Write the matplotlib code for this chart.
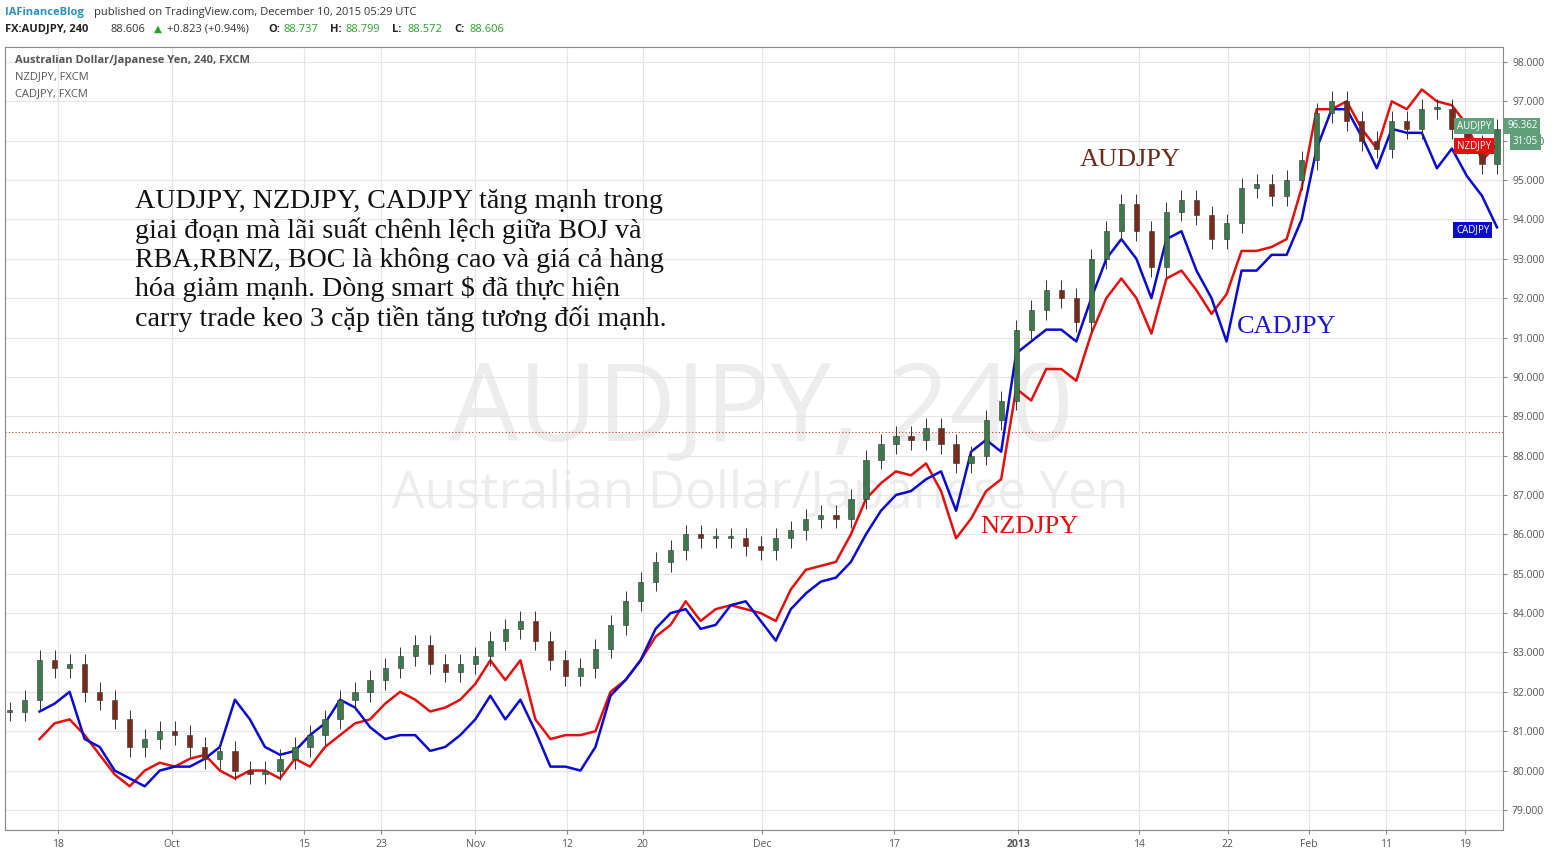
import numpy as np
import matplotlib.pyplot as plt

# closes sampled every 15 px along the chart (bar index 0..99)
aud = [81.5, 81.8, 82.8, 82.6, 82.7, 82.0, 81.8, 81.3, 80.6, 80.8,
       81.0, 80.9, 80.6, 80.3, 80.5, 80.0, 79.9, 80.0, 80.3, 80.6,
       80.9, 81.3, 81.8, 82.0, 82.3, 82.6, 82.9, 83.2, 82.7, 82.5,
       82.7, 82.9, 83.3, 83.6, 83.8, 83.3, 82.8, 82.4, 82.6, 83.1,
       83.7, 84.3, 84.8, 85.3, 85.6, 86.0, 85.9, 85.9, 85.9, 85.7,
       85.6, 85.9, 86.1, 86.4, 86.5, 86.4, 86.9, 87.9, 88.3, 88.5,
       88.4, 88.7, 88.3, 87.8, 88.0, 88.9, 89.4, 91.2, 91.7, 92.2,
       92.0, 91.4, 93.0, 93.7, 94.4, 93.7, 92.8, 94.2, 94.5, 94.1,
       93.5, 93.9, 94.8, 94.9, 94.6, 95.0, 95.5, 96.7, 97.0, 96.5,
       96.0, 95.8, 96.5, 96.3, 96.8, 96.8, 96.3, 95.9, 95.4, 96.3]
nzd = [np.nan, np.nan, 80.8, 81.2, 81.3, 80.9, 80.4, 79.9, 79.6, 80.0,
       80.2, 80.1, 80.3, 80.4, 80.0, 79.8, 80.0, 80.0, 79.8, 80.3,
       80.1, 80.6, 80.9, 81.2, 81.3, 81.7, 82.0, 81.8, 81.5, 81.6,
       81.8, 82.2, 82.8, 82.3, 82.8, 81.3, 80.8, 80.9, 80.9, 81.0,
       82.0, 82.3, 82.8, 83.4, 83.7, 84.3, 83.8, 84.1, 84.2, 84.1,
       84.0, 83.8, 84.6, 85.1, 85.2, 85.3, 86.0, 86.9, 87.3, 87.6,
       87.5, 87.8, 87.1, 85.9, 86.4, 87.1, 87.4, 89.7, 89.4, 90.2,
       90.2, 89.9, 91.1, 92.0, 92.5, 92.0, 91.1, 92.5, 92.7, 92.2,
       91.6, 92.1, 93.2, 93.2, 93.3, 93.5, 94.8, 96.8, 96.8, 97.0,
       96.3, 95.8, 97.0, 96.8, 97.3, 97.0, 96.9, 96.4, 95.5, 95.9]
cad = [np.nan, np.nan, 81.5, 81.7, 82.0, 80.8, 80.6, 80.0, 79.8, 79.6,
       80.0, 80.1, 80.1, 80.3, 80.6, 81.8, 81.3, 80.6, 80.4, 80.5,
       80.9, 81.2, 81.8, 81.6, 81.1, 80.8, 80.9, 80.9, 80.5, 80.6,
       80.9, 81.3, 81.9, 81.3, 81.8, 81.0, 80.1, 80.1, 80.0, 80.6,
       81.9, 82.3, 82.8, 83.6, 84.0, 84.1, 83.6, 83.7, 84.2, 84.3,
       83.8, 83.3, 84.1, 84.5, 84.8, 84.9, 85.3, 86.0, 86.6, 87.0,
       87.1, 87.4, 87.6, 86.6, 88.1, 88.4, 88.1, 90.6, 90.9, 91.2,
       91.2, 90.9, 92.0, 93.0, 93.5, 93.0, 92.0, 93.5, 93.7, 92.7,
       92.0, 90.9, 92.7, 92.7, 93.1, 93.1, 94.0, 95.8, 96.8, 96.8,
       96.1, 95.3, 96.3, 96.2, 96.2, 95.3, 95.8, 95.1, 94.6, 93.8]
tick_labels = ["18", "Oct", "15", "23", "Nov", "12", "20", "Dec", "17", "2013",
               "14", "22", "Feb", "11", "19"]
tick_px = [53, 167, 299, 376, 470, 562, 637, 756, 888, 1012, 1133, 1221, 1302, 1379, 1458]
last_price = 88.606

W, H = 1556, 863
plt.rcParams['font.family'] = ['Open Sans', 'DejaVu Sans']
fig = plt.figure(figsize=(W / 100, H / 100), dpi=100)
fig.patch.set_facecolor("white")
ax = fig.add_axes([5 / W, 33 / H, 1498 / W, 783 / H])
idx = np.arange(len(aud))
ax.set_xlim(-0.3, len(aud) - 0.6)
ax.set_ylim(78.49, 98.38)

# candles: open = previous close
opens = np.r_[aud[0], aud[:-1]]
closes = np.array(aud)
for i, (o, c) in enumerate(zip(opens, closes)):
    col = "#3c7a4e" if c >= o else "#7a2a1a"
    ax.vlines(i, min(o, c) - 0.25, max(o, c) + 0.25, color="#333333", lw=0.7, zorder=3)
    ax.bar(i, max(abs(c - o), 0.05), bottom=min(o, c), width=0.35, color=col,
           edgecolor="#333333", lw=0.4, zorder=4)
ax.plot(idx, nzd, color="#e31010", lw=1.8, zorder=2)
ax.plot(idx, cad, color="#0a0ad0", lw=1.8, zorder=2)

ax.axhline(last_price, color="#c0392b", lw=0.8, ls=(0, (1, 2)), zorder=1)

yt = np.arange(79, 99)
ax.set_yticks(yt)
ax.set_yticklabels([f"{v:.3f}" for v in yt], fontsize=7.5, color="#555555")
ax.yaxis.tick_right()
ax.set_xticks([(p - 5) / 15 for p in tick_px])
ax.set_xticklabels(tick_labels, fontsize=7.5, color="#555555")
for lbl in ax.get_xticklabels():
    if lbl.get_text() == "2013":
        lbl.set_fontweight("bold")
ax.tick_params(length=3, color="#888888")
ax.grid(color="#e6e6e6", lw=0.8)
for s in ax.spines.values():
    s.set_color("#888888")

# watermark
ax.text(0.505, 0.533, "AUDJPY, 240", transform=ax.transAxes, fontsize=78,
        color="#ededed", ha="center", va="center", zorder=0)
ax.text(0.504, 0.428, "Australian Dollar/Japanese Yen", transform=ax.transAxes,
        fontsize=37, color="#ededed", ha="center", va="center", zorder=0)

# header
fig.text(5 / W, 1 - 12 / H, "IAFinanceBlog", color="#2a8fbd", fontsize=8,
         fontweight="bold", va="center")
fig.text(94 / W, 1 - 12 / H, "published on TradingView.com, December 10, 2015 05:29 UTC",
         color="#333333", fontsize=8, va="center")
fig.text(5 / W, 1 - 29 / H, "FX:AUDJPY, 240", fontsize=8, fontweight="bold",
         color="#222222", va="center")
fig.text(110 / W, 1 - 29 / H, "88.606", fontsize=8, color="#333333", va="center")
fig.text(154 / W, 1 - 29 / H, "\u25b2", fontsize=7.5, color="#2ca02c", va="center")
fig.text(167 / W, 1 - 29 / H, "+0.823 (+0.94%)", fontsize=8, color="#333333", va="center")
x0 = 268
for k, v in [("O:", "88.737"), ("H:", "88.799"), ("L:", "88.572"), ("C:", "88.606")]:
    fig.text(x0 / W, 1 - 29 / H, k, fontsize=8, fontweight="bold", color="#222222", va="center")
    fig.text((x0 + 15) / W, 1 - 29 / H, v, fontsize=8, color="#2ca02c", va="center")
    x0 += 62

ax.text(10 / 1498, 1 - 13 / 783, "Australian Dollar/Japanese Yen, 240, FXCM",
        transform=ax.transAxes, fontsize=8, fontweight="bold", color="#555555", va="center")
ax.text(10 / 1498, 1 - 30 / 783, "NZDJPY, FXCM", transform=ax.transAxes,
        fontsize=8, color="#555555", va="center")
ax.text(10 / 1498, 1 - 47 / 783, "CADJPY, FXCM", transform=ax.transAxes,
        fontsize=8, color="#555555", va="center")

note = ("AUDJPY, NZDJPY, CADJPY tăng mạnh trong\n"
        "giai đoạn mà lãi suất chênh lệch giữa BOJ và\n"
        "RBA,RBNZ, BOC là không cao và giá cả hàng\n"
        "hóa giảm mạnh. Dòng smart $ đã thực hiện\n"
        "carry trade keo 3 cặp tiền tăng tương đối mạnh.")
fig.text(135 / W, 1 - 189 / H, note, fontsize=20.2, family="Liberation Serif",
         color="#111111", va="top", linespacing=1.17)

fig.text(1080 / W, 1 - 160 / H, "AUDJPY", fontsize=19, family="Liberation Serif",
         color="#6b2a1a", va="center")
fig.text(1237 / W, 1 - 327 / H, "CADJPY", fontsize=19, family="Liberation Serif",
         color="#1a1acc", va="center")
fig.text(980 / W, 1 - 527 / H, "NZDJPY", fontsize=19, family="Liberation Serif",
         color="#e31010", va="center")

# right-side price tags
def tag(y_px, text, fc, x_px):
    fig.text(x_px / W, 1 - y_px / H, text, fontsize=7, color="white", va="center",
             bbox=dict(boxstyle="square,pad=0.3", fc=fc, ec="none"), zorder=10)

tag(126, "AUDJPY", "#5f9f7a", 1457)
tag(126, "96.362", "#5f9f7a", 1507)
tag(146, "NZDJPY", "#e31010", 1457)
tag(142, "31:05", "#5f9f7a", 1513)
tag(230, "CADJPY", "#0a0ad0", 1456)

fig.savefig("out.png", dpi=100)
